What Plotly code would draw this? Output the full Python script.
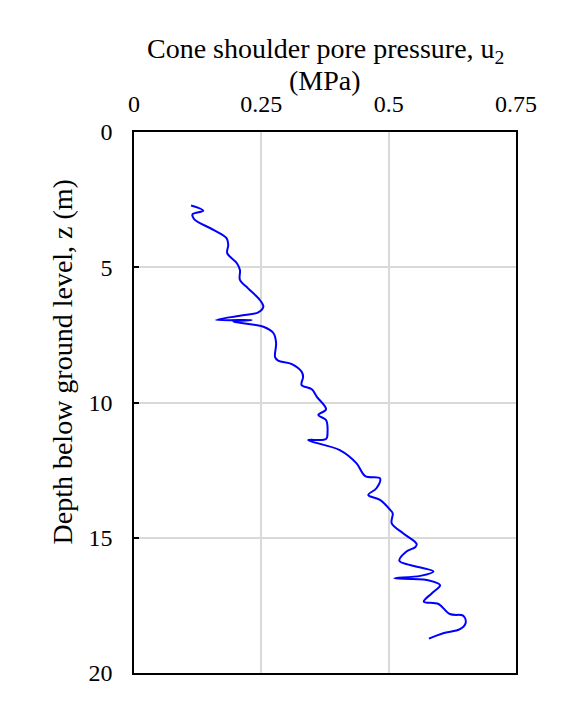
import plotly.graph_objects as go

# cone shoulder pore pressure u2 (MPa) vs depth z (m)
u2 = [0.112, 0.136, 0.115, 0.118, 0.156, 0.182, 0.185, 0.183, 0.202, 0.208,
      0.208, 0.224, 0.247, 0.254, 0.244, 0.208, 0.161, 0.231, 0.195, 0.254,
      0.274, 0.279, 0.277, 0.283, 0.310, 0.329, 0.332, 0.329, 0.349, 0.359,
      0.377, 0.362, 0.377, 0.380, 0.377, 0.342, 0.404, 0.437, 0.454, 0.483,
      0.476, 0.460, 0.483, 0.503, 0.508, 0.506, 0.529, 0.555, 0.552, 0.535,
      0.521, 0.542, 0.588, 0.562, 0.511, 0.575, 0.601, 0.585, 0.569, 0.598,
      0.620, 0.647, 0.651, 0.640, 0.607, 0.579]
depth = [2.72, 2.91, 3.04, 3.22, 3.62, 3.93, 4.18, 4.48, 4.85, 5.10,
         5.47, 5.78, 6.21, 6.46, 6.67, 6.79, 6.95, 6.95, 7.01, 7.20,
         7.44, 7.81, 8.32, 8.45, 8.58, 8.86, 9.05, 9.35, 9.51, 9.79,
         10.25, 10.46, 10.65, 11.08, 11.35, 11.39, 11.76, 12.25, 12.72, 12.80,
         13.17, 13.42, 13.60, 13.97, 14.10, 14.47, 14.84, 15.23, 15.35, 15.51,
         15.85, 16.01, 16.25, 16.41, 16.50, 16.56, 16.75, 17.05, 17.36, 17.45,
         17.82, 17.89, 18.16, 18.38, 18.53, 18.73]

x_ticks = [0, 0.25, 0.5, 0.75]
x_labels = ["0", "0.25", "0.5", "0.75"]
y_ticks = [0, 5, 10, 15, 20]

font = "Liberation Serif, Times New Roman, serif"

fig = go.Figure()
fig.add_trace(go.Scatter(
    x=u2, y=depth, mode="lines",
    line=dict(color="#0000ff", width=2, shape="spline", smoothing=1.0),
    showlegend=False,
))

# top axis title, two lines
fig.add_annotation(text="Cone shoulder pore pressure, u<sub>2</sub>",
                   xref="paper", yref="paper", x=0.5, y=1,
                   yanchor="middle", yshift=82, showarrow=False,
                   font=dict(size=28))
fig.add_annotation(text="(MPa)",
                   xref="paper", yref="paper", x=0.5, y=1,
                   yanchor="middle", yshift=52, showarrow=False,
                   font=dict(size=28))
# y axis title, sits a bit above the middle like the original
fig.add_annotation(text="Depth below ground level, z (m)",
                   xref="paper", yref="paper", x=0, y=0.5,
                   xanchor="center", yanchor="middle",
                   xshift=-72, yshift=40, textangle=-90, showarrow=False,
                   font=dict(size=28))

fig.update_layout(
    width=580, height=718,
    margin=dict(l=126, r=72, t=124, b=53),
    paper_bgcolor="white", plot_bgcolor="white",
    font=dict(family=font, size=24, color="black"),
    xaxis=dict(
        side="top", range=[0, 0.75],
        tickvals=x_ticks, ticktext=x_labels,
        showgrid=True, gridcolor="#d9d9d9", gridwidth=1.5,
        showline=True, linecolor="black", linewidth=1.5, mirror=True,
        ticks="", zeroline=False, ticklabelstandoff=9,
    ),
    yaxis=dict(
        range=[20, 0], tickvals=y_ticks,
        showgrid=True, gridcolor="#d9d9d9", gridwidth=1.5,
        showline=True, linecolor="black", linewidth=1.5, mirror=True,
        ticks="inside", ticklen=5, tickwidth=1.5, tickcolor="black",
        zeroline=False, ticklabelstandoff=15,
    ),
)

fig.write_html("out.html")
